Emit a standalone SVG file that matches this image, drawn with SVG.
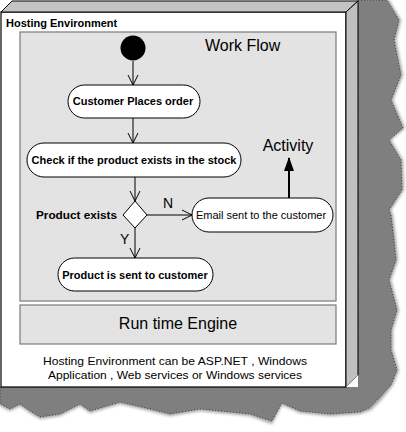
<svg xmlns="http://www.w3.org/2000/svg" width="406" height="432" viewBox="0 0 406 432">
<style>
.node{fill:#ffffff;stroke:#000000;stroke-width:1}
.panel{fill:#e3e3e3;stroke:#7a7a7a;stroke-width:1.2}
.b{font-family:"Liberation Sans",Arial,sans-serif;font-weight:bold;font-size:11px;fill:#000}
.n{font-family:"Liberation Sans",Arial,sans-serif;font-size:11px;fill:#000}
.big{font-family:"Liberation Sans",Arial,sans-serif;font-size:16px;fill:#000}
.lbl{font-family:"Liberation Sans",Arial,sans-serif;font-size:14px;fill:#000}
.edge{stroke:#000;stroke-width:1;fill:none}
</style>
<defs>
<marker id="open" viewBox="0 0 12 12" refX="11" refY="6" markerWidth="12" markerHeight="12" markerUnits="userSpaceOnUse" orient="auto">
<path d="M1,1 L11,6 L1,11" fill="none" stroke="#000" stroke-width="1"/>
</marker>
<marker id="solid" viewBox="0 0 14 10" refX="13" refY="5" markerWidth="14" markerHeight="10" markerUnits="userSpaceOnUse" orient="auto">
<path d="M0,0 L14,5 L0,10 Z" fill="#000"/>
</marker>
<filter id="soft" x="-10%" y="-10%" width="120%" height="120%">
<feGaussianBlur stdDeviation="1.5"/>
</filter>
</defs>
<g id="shadow">
<polygon filter="url(#soft)" fill="#a0a0a0" points="358,0 389,0 401,20 396,40 403,75 393,100 405,128 391,140 403,160 404,190 391,210 393,215 396,240 398,260 391,280 399,310 393,330 393,350 399,370 393,385 381,400 371,410 360,414 330,416 300,413 282,405 272,424 250,416 200,411 170,416 150,411 120,404 90,413 80,406 60,416 40,419 30,413 20,406 10,411 0,406 0,387 346,387 358,375"/>
<polygon fill="#7f7f7f" stroke="#000" stroke-width="0.6" stroke-dasharray="1,2" points="358,0 387,0 399,20 394,40 401,75 391,100 403,128 389,140 401,160 402,190 389,210 391,215 394,240 396,260 389,280 397,310 391,330 391,350 397,370 391,385 379,398 369,408 360,412 330,414 300,411 282,403 272,421 250,414 200,409 170,414 150,409 120,402 90,411 80,404 60,414 40,417 30,411 20,404 10,409 0,404 0,387 346,387 358,375"/>
</g>
<g id="hosting-environment">
<rect x="1" y="12" width="345" height="375" fill="#ffffff" stroke="#000" stroke-width="1.2"/>
<polygon points="1,12 12,1 358,1 346,12" fill="#c4c4c4" stroke="#000" stroke-width="1"/>
<polygon points="346,12 358,1 358,375 346,387" fill="#c0c0c0" stroke="#000" stroke-width="1"/>
<polygon points="346,387 358,375 358,387" fill="#ffffff"/>
<text class="b" x="6" y="27" font-size="10.7">Hosting Environment</text>
<text class="n" x="43" y="365" font-size="13" textLength="264" lengthAdjust="spacingAndGlyphs">Hosting Environment can be ASP.NET , Windows</text>
<text class="n" x="48" y="379" font-size="13" textLength="254" lengthAdjust="spacingAndGlyphs">Application , Web services or Windows services</text>
</g>
<g id="workflow">
<rect class="panel" x="20" y="32" width="316" height="269"/>
<text class="big" x="205" y="51">Work Flow</text>
</g>
<g id="runtime-engine">
<rect class="panel" x="20" y="305" width="316" height="39"/>
<text class="big" x="178" y="329" text-anchor="middle">Run time Engine</text>
</g>
<g id="start">
<circle cx="133" cy="48" r="12.5" fill="#000"/>
</g>
<g id="customer-places-order">
<rect class="node" x="68" y="85" width="132" height="33" rx="16.5"/>
<text class="b" x="133" y="105" text-anchor="middle">Customer Places order</text>
</g>
<g id="check-stock">
<rect class="node" x="27" y="143" width="214" height="34" rx="17"/>
<text class="b" x="134" y="164" text-anchor="middle">Check if the product exists in the stock</text>
</g>
<g id="decision">
<polygon points="135,201 147,215 135,228 123,215" fill="#fff" stroke="#000" stroke-width="1"/>
<text class="b" x="36" y="219" font-size="12.6" textLength="81" lengthAdjust="spacingAndGlyphs">Product exists</text>
</g>
<g id="email">
<rect class="node" x="192" y="198" width="141" height="34" rx="17"/>
<text class="n" x="261" y="219" text-anchor="middle" font-size="11.2">Email sent to the customer</text>
</g>
<g id="product-sent">
<rect class="node" x="58" y="258" width="155" height="33" rx="16.5"/>
<text class="b" x="135" y="279" text-anchor="middle">Product is sent to customer</text>
</g>
<g id="activity-label">
<text class="big" x="288" y="151" text-anchor="middle">Activity</text>
</g>
<g id="connectors">
<line class="edge" x1="133" y1="61" x2="133" y2="85" marker-end="url(#open)"/>
<line class="edge" x1="133" y1="118" x2="133" y2="143" marker-end="url(#open)"/>
<line class="edge" x1="135" y1="177" x2="135" y2="201" marker-end="url(#open)"/>
<line class="edge" x1="147" y1="215" x2="192" y2="215" marker-end="url(#open)"/>
<line class="edge" x1="135" y1="228" x2="135" y2="258" marker-end="url(#open)"/>
<line x1="289" y1="198" x2="289" y2="158" stroke="#000" stroke-width="2" marker-end="url(#solid)"/>
<text class="lbl" x="163" y="208">N</text>
<text class="lbl" x="120" y="244">Y</text>
</g>
</svg>
